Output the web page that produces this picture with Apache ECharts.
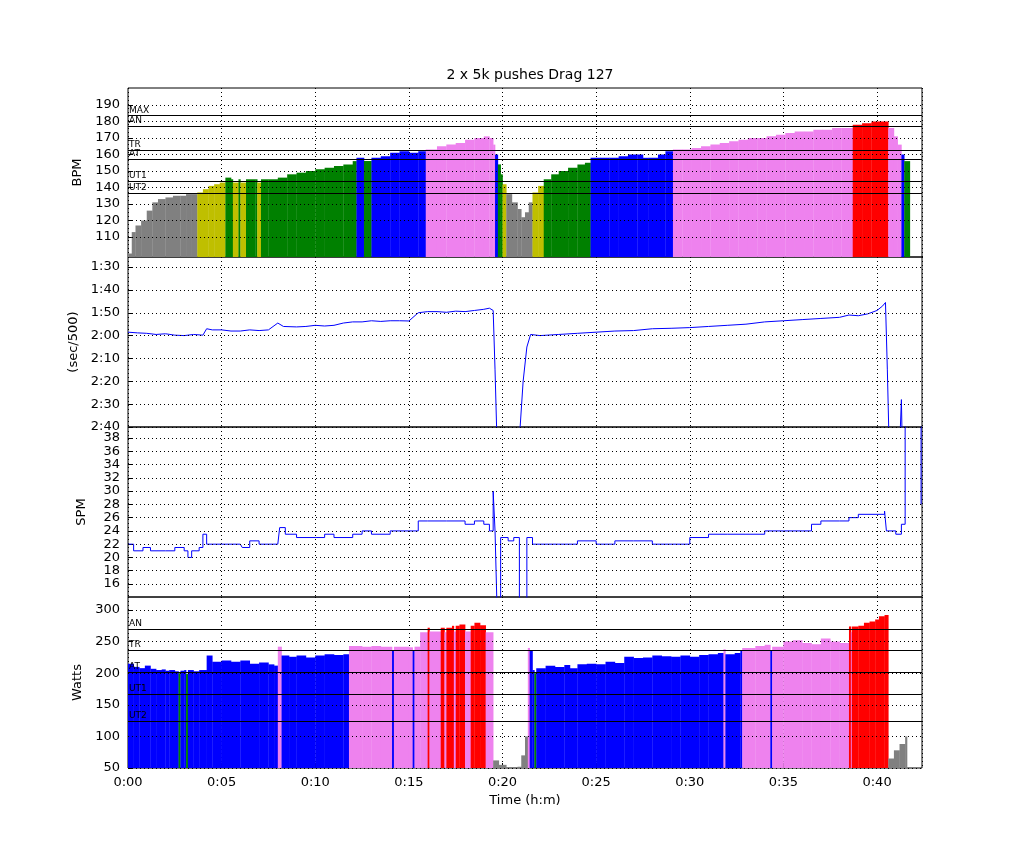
<!DOCTYPE html>
<html>
<head>
<meta charset="utf-8">
<script src="https://cdn.jsdelivr.net/npm/echarts@6/dist/echarts.min.js"></script>
<style>html,body{margin:0;padding:0;background:#fff}#chart{width:1024px;height:853px}</style>
</head>
<body>
<div id="chart"></div>
<script>
// ---- data (time in minutes) ----
var hrTime = [0,0.2,0.4,0.7,1,1.3,1.6,2,2.4,2.8,
    3.1,3.4,3.7,4,4.3,4.6,4.9,5.2,5.5,5.6,
    5.9,6.0,6.3,6.8,6.9,7.1,7.5,8,8.5,9,
    9.5,10,10.5,11,11.5,12,12.2,12.6,13,13.5,
    14,14.5,15,15.5,15.9,16.5,17,17.5,18,18.5,
    19,19.3,19.5,19.6,19.75,19.9,20.0,20.2,20.5,20.8,
    21.0,21.2,21.4,21.6,21.9,22.2,22.6,23,23.5,24,
    24.4,24.7,25.2,25.7,26.2,26.7,27.2,27.5,27.8,28.3,
    28.7,29.1,29.6,30.1,30.6,31.1,31.6,32.1,32.6,33.1,
    33.6,34.1,34.6,35.1,35.6,36.1,36.6,37.1,37.6,38.1,
    38.7,39.2,39.7,40.1,40.6,40.9,41.1,41.3,41.45,41.75];
var hrBpm = [100,113,117,120,126,131,133,134,135,135,
    136,136,137,139,141,142,143,146,145,143,
    145,143,145,145,143,145,145,146,148,149,
    150,151,152,153,154,156,158,156,158,159,
    161,162,161,162,163,165,166,167,169,170,
    171,170,166,160,154,148,142,136,131,127,
    122,125,131,137,141,145,148,150,152,154,
    155,158,158,158,159,160,160,158,158,160,
    162,163,163,164,165,166,167,168,169,170,
    170,171,172,173,174,174,175,175,176,176,
    178,179,180,180,176,171,166,160,156,null];

var wTime = [0,0.3,0.6,0.9,1.2,1.5,1.8,2.0,2.2,2.5,
    2.7,2.8,3.0,3.1,3.2,3.5,3.8,4.2,4.5,5,
    5.5,6,6.5,7,7.5,7.8,8.0,8.2,8.6,9,
    9.5,10,10.5,11,11.5,11.8,12.5,13,13.5,14.1,
    14.2,15,15.2,15.3,15.6,16,16.1,16.7,16.9,17.0,
    17.3,17.4,17.5,17.7,18.0,18.3,18.5,18.8,19.1,19.5,
    19.8,20.2,20.8,21.0,21.2,21.35,21.45,21.6,21.7,21.8,
    22.3,22.8,23.3,23.6,24,24.5,25,25.5,26,26.5,
    27,27.5,28,28.5,29,29.5,30,30.5,31,31.5,
    31.8,31.9,32.4,32.7,32.8,33.5,34.0,34.3,34.4,35.0,
    35.5,36,36.5,37,37.5,38.0,38.5,38.6,38.65,39,
    39.3,39.6,39.9,40.1,40.4,40.6,40.9,41.2,41.5,41.6];
var wWatts = [215,210,208,212,207,205,206,204,205,203,
    200,204,205,199,205,203,205,228,218,220,
    218,220,215,217,214,212,242,228,226,228,
    225,228,230,229,230,243,242,243,242,236,
    242,241,236,242,265,272,266,272,265,272,
    275,266,275,277,266,275,280,276,265,62,
    55,50,52,70,100,240,236,205,200,208,
    212,210,213,208,214,215,214,218,216,226,
    224,225,228,227,226,228,226,229,230,232,
    238,230,232,236,240,243,245,236,242,250,
    252,248,246,255,250,248,274,265,274,275,
    280,282,285,290,292,65,78,88,100,null];

var paceTime = [0,0.5,1,1.5,2,2.5,3,3.5,4,4.2,
    4.5,5,5.5,6,6.5,7,7.5,8,8.3,9,
    9.5,10,10.5,11,11.5,12,12.5,13,13.5,14,
    14.5,15,15.5,16,16.5,17,17.5,18,18.5,19,
    19.3,19.5,19.6,19.7,20.9,21.1,21.3,21.5,22,23,
    24,25,26,27,28,29,30,31,32,33,
    34,35,36,37,38,38.5,39,39.5,40,40.3,
    40.45,40.55,40.65,41.2,41.3,41.35];
var paceSec = [118.5,118.8,119,119.5,119.2,119.8,120,119.5,119.8,117,
    117.5,117.5,118,118,117.5,117.8,117.5,114.5,116,116.2,
    116,115.5,115.8,115.5,114.5,114,114,113.5,113.8,113.5,
    113.5,113.6,110,109.5,109.5,109.8,109.3,109.5,109,108.5,
    108,109,135,165,165,140,125,119.5,120,119.5,
    119,118.5,118,117.8,117,116.8,116.5,116,115.5,115,
    114,113.5,113,112.5,112,111,111.3,110.5,109,107,
    105.5,135,170,170,148,170];

var spmTime = [0,0.3,0.8,1.2,2,2.5,3,3.2,3.4,3.8,
    4,4.2,5,5.5,6,6.1,6.5,7,8,8.1,
    8.4,9,10,10.5,11,12,12.5,13,14,15,
    15.5,16,17,18,18.5,19,19.3,19.5,19.6,19.7,
    19.9,20.3,20.6,20.9,21.1,21.3,21.6,22,23,24,
    25,26,27,28,29,30,31,32,33,34,
    35,36,36.5,37,38,38.5,39,40,40.4,40.5,
    41,41.3,41.5,42,42.35];
var spmRate = [22,21,21.5,21,21,21.5,21,20,21,21.5,
    23.5,22,22,22,22,21.5,22.5,22,22,24.5,
    23.5,23,23,23.5,23,23.5,24,23.5,24,24,
    25.5,25.5,25.5,25,25.5,25,24,30,24,13,
    23,22.5,23,13,13,23,22,22,22,22.5,
    22,22.5,22.5,22,22,23,23.5,23.5,23.5,24,
    24,24,25,25.5,25.5,26,26.5,26.5,27,24,
    23.5,25,40,40,28];

// zone thresholds
var hrZoneNames = ['MAX','AN','TR','AT','UT1','UT2'];
var hrZoneValues = [183.5,177,162.5,157,144,136.5];
var wZoneNames = ['AN','TR','AT','UT1','UT2'];
var wZoneValues = [270,237,202,167,124];

// tick labels
var hrTicks = [110,120,130,140,150,160,170,180,190];
var paceTicks = [90,100,110,120,130,140,150,160];
var spmTicks = [16,18,20,22,24,26,28,30,32,34,36,38];
var wattTicks = [50,100,150,200,250,300];

var zoneColors = ['#808080','#bfbf00','#008000','#0000ff','#ee82ee','#ff0000'];

function zoneColor(v, asc) {
    // asc: thresholds ascending UT2, UT1, AT, TR, AN
    var idx = 0;
    for (var i = 0; i < asc.length; i++) if (v >= asc[i]) idx = i + 1;
    return zoneColors[idx];
}

function buildBars(times, vals) {
    var out = [];
    for (var i = 0; i < times.length - 1; i++) {
        if (vals[i] == null) continue;
        out.push([times[i], times[i + 1], vals[i]]);
    }
    return out;
}

function pairs(times, vals) {
    return times.map(function(t, i) { return [t, vals[i]]; });
}

function fmtPace(v) {
    var m = Math.floor(v / 60), s = Math.round(v - m * 60);
    return m + ':' + (s < 10 ? '0' + s : s);
}

var chart = echarts.init(document.getElementById('chart'));
var FONT = 'DejaVu Sans';
var left = 128, width = 794;
var tops = [88, 257, 427, 597];
var heights = [169, 170, 170, 171];
var yRanges = [[97.9, 200.3], [85.6, 160], [14.04, 39.66], [50, 320.6]];
var yNames = ['BPM', '(sec/500)', 'SPM', 'Watts'];
var yTicks = [hrTicks, paceTicks, spmTicks, wattTicks];

var grids = [], xAxes = [], yAxes = [];
for (var i = 0; i < 4; i++) {
    grids.push({ left: left, width: width, top: tops[i], height: heights[i],
        show: true, borderColor: '#000', borderWidth: 1, backgroundColor: 'transparent' });
    xAxes.push({
        type: 'value', gridIndex: i, min: 0, max: 42.4, interval: 5,
        axisLine: { show: false },
        axisTick: { show: i === 3, inside: true, length: 5, lineStyle: { color: '#000' } },
        axisLabel: { show: i === 3, color: '#000', fontFamily: FONT, fontSize: 13, showMaxLabel: false,
            formatter: function(v) { return '0:' + (v < 10 ? '0' + v : v); } },
        splitLine: { show: true, lineStyle: { color: '#000', type: [1, 3], width: 1 } },
        name: i === 3 ? 'Time (h:m)' : '', nameLocation: 'middle', nameGap: 26,
        nameTextStyle: { color: '#000', fontFamily: FONT, fontSize: 13 }
    });
    yAxes.push({
        type: 'value', gridIndex: i, min: yRanges[i][0], max: yRanges[i][1],
        inverse: i === 1,
        axisLine: { show: false },
        axisTick: { show: true, inside: true, length: 5, customValues: yTicks[i], lineStyle: { color: '#000' } },
        axisLabel: { color: '#000', fontFamily: FONT, fontSize: 13, customValues: yTicks[i],
            formatter: i === 1 ? fmtPace : null },
        splitLine: { show: false },
        name: yNames[i], nameLocation: 'middle', nameGap: i === 1 ? 46 : 40, nameRotate: 90,
        nameTextStyle: { color: '#000', fontFamily: FONT, fontSize: 13 }
    });
}

function gridMarks(ticks, zoneVals, zoneNames) {
    var data = ticks.map(function(t) {
        return { yAxis: t, lineStyle: { color: '#000', type: [1, 3], width: 1 }, label: { show: false } };
    });
    zoneVals.forEach(function(z, k) {
        data.push({ yAxis: z, lineStyle: { color: '#000', type: 'solid', width: 1.2 },
            label: { show: true, formatter: zoneNames[k], position: 'insideStartTop',
                distance: [1, 1], color: '#000', fontSize: 9, fontFamily: FONT } });
    });
    return { silent: true, symbol: 'none', animation: false, data: data };
}

function barSeries(idx, data, asc) {
    return {
        type: 'custom', xAxisIndex: idx, yAxisIndex: idx, data: data, clip: true,
        encode: { x: [0, 1], y: 2 },
        renderItem: function(params, api) {
            var p0 = api.coord([api.value(0), api.value(2)]);
            var p1 = api.coord([api.value(1), yRanges[idx][0]]);
            var c = zoneColor(api.value(2), asc);
            return { type: 'rect', shape: { x: p0[0], y: p0[1], width: p1[0] - p0[0] + 0.3, height: p1[1] - p0[1] },
                style: { fill: c, stroke: null } };
        }
    };
}

var hrAsc = hrZoneValues.slice(1).reverse();
var wAsc = wZoneValues.slice().reverse();

var option = {
    animation: false,
    title: { text: '2 x 5k pushes Drag 127', left: 525, top: 63, textAlign: 'center',
        textStyle: { fontFamily: FONT, fontSize: 14, fontWeight: 'normal', color: '#000' } },
    grid: grids, xAxis: xAxes, yAxis: yAxes,
    series: [
        barSeries(0, buildBars(hrTime, hrBpm), hrAsc),
        { type: 'line', xAxisIndex: 0, yAxisIndex: 0, data: [[0, null]], symbol: 'none',
          markLine: gridMarks(hrTicks, hrZoneValues, hrZoneNames) },
        { type: 'line', xAxisIndex: 1, yAxisIndex: 1, data: pairs(paceTime, paceSec), symbol: 'none',
          lineStyle: { color: '#0000ff', width: 1 }, itemStyle: { color: '#0000ff' },
          markLine: gridMarks(paceTicks, [], []) },
        { type: 'line', xAxisIndex: 2, yAxisIndex: 2, data: pairs(spmTime, spmRate), symbol: 'none',
          step: 'end', lineStyle: { color: '#0000ff', width: 1 }, itemStyle: { color: '#0000ff' },
          markLine: gridMarks(spmTicks, [], []) },
        barSeries(3, buildBars(wTime, wWatts), wAsc),
        { type: 'line', xAxisIndex: 3, yAxisIndex: 3, data: [[0, null]], symbol: 'none',
          markLine: gridMarks(wattTicks, wZoneValues, wZoneNames) }
    ]
};
chart.setOption(option);
</script>
</body>
</html>
